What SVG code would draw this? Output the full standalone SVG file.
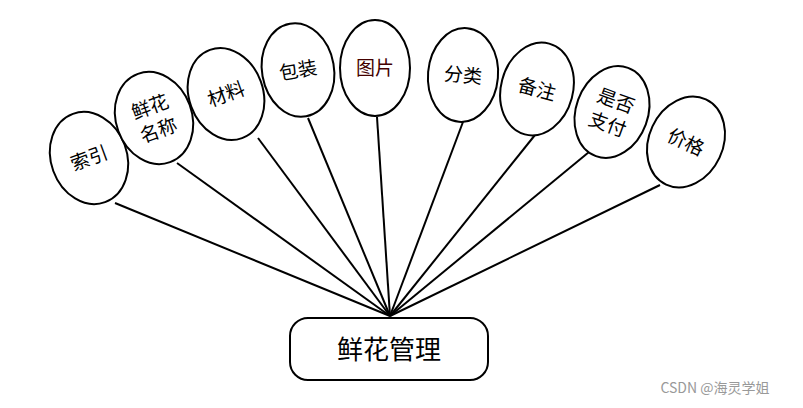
<svg xmlns="http://www.w3.org/2000/svg" width="803" height="408" viewBox="0 0 803 408">
<style>
.e{fill:#fff;stroke:#000;stroke-width:2}
.t{font-family:"Noto Sans CJK SC",sans-serif;font-size:19px;fill:#000;text-anchor:middle}
.c line{stroke:#000;stroke-width:2}
</style>
<rect width="803" height="408" fill="#fff"/>
<g class="c" id="connectors">
<line x1="115" y1="203" x2="390" y2="316"/>
<line x1="177" y1="163" x2="390" y2="316"/>
<line x1="258" y1="138" x2="390" y2="316"/>
<line x1="308" y1="118" x2="390" y2="316"/>
<line x1="377" y1="117" x2="390" y2="316"/>
<line x1="463" y1="122" x2="390" y2="316"/>
<line x1="535" y1="135" x2="390" y2="316"/>
<line x1="589" y1="152" x2="390" y2="316"/>
<line x1="660" y1="185" x2="390" y2="316"/>
</g>
<g id="n1" transform="translate(89,158) rotate(-20)"><ellipse class="e" rx="38" ry="47"/><text class="t" y="7">索引</text></g>
<g id="n2" transform="translate(154,118) rotate(-20)"><ellipse class="e" rx="38" ry="47"/><text class="t" y="-5">鲜花</text><text class="t" y="20">名称</text></g>
<g id="n3" transform="translate(226,94) rotate(-20)"><ellipse class="e" rx="37" ry="47"/><text class="t" y="7">材料</text></g>
<g id="n4" transform="translate(298,70) rotate(-10)"><ellipse class="e" rx="36" ry="47"/><text class="t" y="7">包装</text></g>
<g id="n5" transform="translate(375,68)"><ellipse class="e" rx="35" ry="48"/><text class="t" y="7" style="fill:#400">图片</text></g>
<g id="n6" transform="translate(463,75) rotate(5)"><ellipse class="e" rx="35" ry="47"/><text class="t" y="7">分类</text></g>
<g id="n7" transform="translate(537,89) rotate(15)"><ellipse class="e" rx="36" ry="47"/><text class="t" y="7">备注</text></g>
<g id="n8" transform="translate(612,112) rotate(20)"><ellipse class="e" rx="36" ry="47"/><text class="t" y="-5">是否</text><text class="t" y="20">支付</text></g>
<g id="n9" transform="translate(686,142) rotate(25)"><ellipse class="e" rx="37" ry="47"/><text class="t" y="7">价格</text></g>
<g id="main"><rect x="290" y="318" width="198" height="62" rx="18" fill="#fff" stroke="#000" stroke-width="2"/><text x="389" y="359" style="font-family:'Noto Sans CJK SC',sans-serif;font-size:26px;text-anchor:middle">鲜花管理</text></g>
<text x="715" y="393" style="font-family:'Noto Sans CJK SC',sans-serif;font-size:14px;fill:#999;text-anchor:middle">CSDN @海灵学姐</text>
</svg>
